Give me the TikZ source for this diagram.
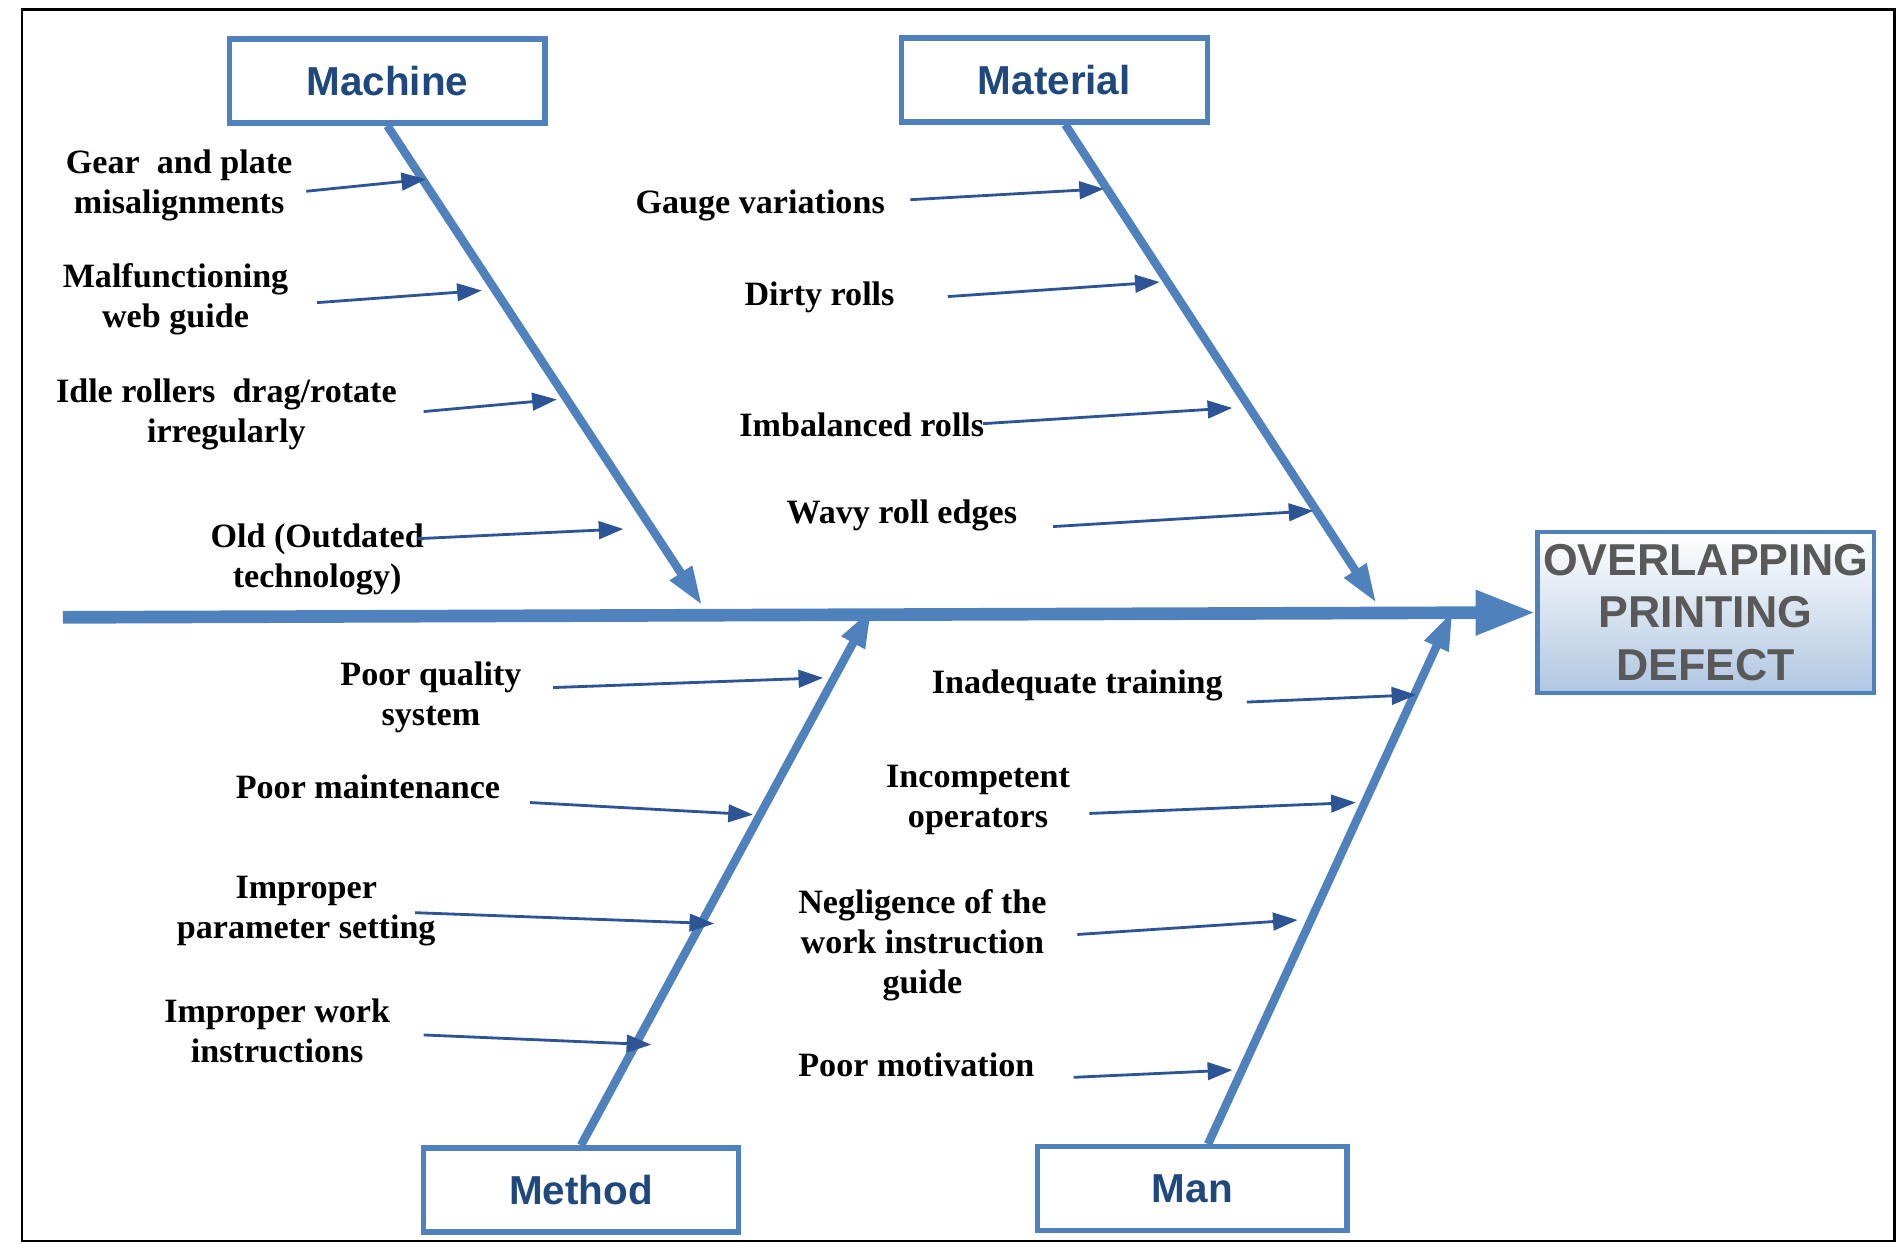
\documentclass[tikz,border=0pt]{standalone}
\usepackage{fontspec}
\setmainfont{Liberation Serif}
\newfontfamily\sansf{Liberation Sans}
\usetikzlibrary{arrows.meta}
\definecolor{bone}{RGB}{79,129,189}
\definecolor{dark}{RGB}{31,73,125}
\definecolor{arr}{RGB}{45,85,150}
\begin{document}
\begin{tikzpicture}[x=0.0121cm,y=-0.0121cm,
 cat/.style={draw=bone,line width=1.5pt,fill=white,minimum width=#1,minimum height=0.84cm,font=\sansf\bfseries\fontsize{11.5}{13}\selectfont,text=dark,inner sep=0pt},
 lab/.style={font=\bfseries\fontsize{9.7}{11.4}\selectfont,align=center,inner sep=0pt},
 b/.style={bone,line width=2.4pt,-{Triangle[length=11pt,width=7pt]}},
 s/.style={arr,line width=0.8pt,-{Triangle[length=7pt,width=5pt]}}]
\useasboundingbox (0,0) rectangle (1568,1027);
\draw[line width=0.7pt] (18,8) rectangle (1565,1025);
\node[draw=bone,line width=1.2pt,top color=white,bottom color=bone!45,minimum width=3.36cm,minimum height=1.61cm,inner sep=0pt,font=\sansf\bfseries\fontsize{12.7}{15}\selectfont,text=black!65,align=center] (head) at (1409,506) {OVERLAPPING\\PRINTING\\DEFECT};
\coordinate (sp) at (52,510);
\draw[bone,line width=3.6pt,-{Triangle[length=17pt,width=12pt]}] (sp) -- (head.west);
\node[cat=3.15cm] (mach) at (320,67) {Machine};
\node[cat=3.06cm] (mat) at (871,66) {Material};
\node[cat=3.15cm] (meth) at (480,983) {Method};
\node[cat=3.09cm] (man) at (985,982) {Man};
\coordinate (m1) at (580,500); \coordinate (m2) at (1137,498);
\coordinate (m3) at (720,503); \coordinate (m4) at (1200,505);
\draw[b] (mach.south) -- (m1);
\draw[b] (mat.south) ++(9,0) -- (m2);
\draw[b] (meth.north) -- (m3);
\draw[b] (man.north) ++(13,0) -- (m4);
% Machine
\node[lab] (a1) at (148,153) {Gear\ \ and plate\\misalignments};
\node[lab] (a2) at (145,247) {Malfunctioning\\web guide};
\node[lab] (a3) at (187,342) {Idle rollers\ \ drag/rotate\\irregularly};
\node[lab] (a4) at (262,462) {Old (Outdated\\technology)};
\draw[s] (253,158) -- (352,148);
\draw[s] (262,250) -- (398,240);
\draw[s] (350,340) -- (460,330);
\draw[s] (345,445) -- (515,437);
% Material
\node[lab] (b1) at (628,170) {Gauge variations};
\node[lab] (b2) at (677,246) {Dirty rolls};
\node[lab] (b3) at (712,351) {Imbalanced rolls};
\node[lab] (b4) at (745,426) {Wavy roll edges};
\draw[s] (752,165) -- (912,156);
\draw[s] (783,245) -- (958,233);
\draw[s] (812,350) -- (1018,337);
\draw[s] (870,435) -- (1085,422);
% Method
\node[lab] (c1) at (356,576) {Poor quality\\system};
\node[lab] (c2) at (304,650) {Poor maintenance};
\node[lab] (c3) at (253,753) {Improper\\parameter setting};
\node[lab] (c4) at (229,852) {Improper work\\instructions};
\draw[s] (457,568) -- (680,560);
\draw[s] (438,663) -- (622,673);
\draw[s] (343,754) -- (590,763);
\draw[s] (350,855) -- (538,863);
% Man
\node[lab] (d1) at (890,566) {Inadequate training};
\node[lab] (d2) at (808,661) {Incompetent\\operators};
\node[lab] (d3) at (762,781) {Negligence of the\\work instruction\\guide};
\node[lab] (d4) at (757,880) {Poor motivation};
\draw[s] (1030,580) -- (1170,574);
\draw[s] (900,672) -- (1120,663);
\draw[s] (890,772) -- (1072,760);
\draw[s] (887,890) -- (1018,884);
\end{tikzpicture}
\end{document}
